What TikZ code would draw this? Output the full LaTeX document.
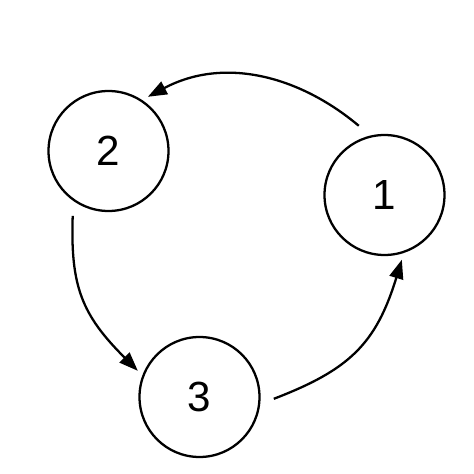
\documentclass[tikz,border=0pt]{standalone}
\usepackage{fontspec}
\setmainfont{Liberation Sans}
\usetikzlibrary{arrows.meta}

\begin{document}
\begin{tikzpicture}[x=0.02cm, y=0.02cm,
    state/.style={circle, draw, line width=1.3pt, minimum size=120*0.02cm, inner sep=0pt, outer sep=7*0.02cm, font=\fontsize{24}{28}\selectfont},
    loop/.style={-{Triangle[length=19*0.02cm, width=14*0.02cm]}, line width=1.3pt, shorten <=8*0.02cm, looseness=1.15}]

\useasboundingbox (0,0) rectangle (474,474);

% States
\node[state] (one) at (384.5,279) {1};
\node[state] (two) at (108.5,323) {2};
\node[state] (three) at (199.5,77) {3};

% Arrows
\draw[loop, looseness=1] (one.107) to[out=140, in=28] (two.54);
\draw[loop] (two.238) to[out=268, in=135] (three.157);
\draw[loop] (three.-4) to[out=21, in=-107] (one.-75);

\end{tikzpicture}
\end{document}
